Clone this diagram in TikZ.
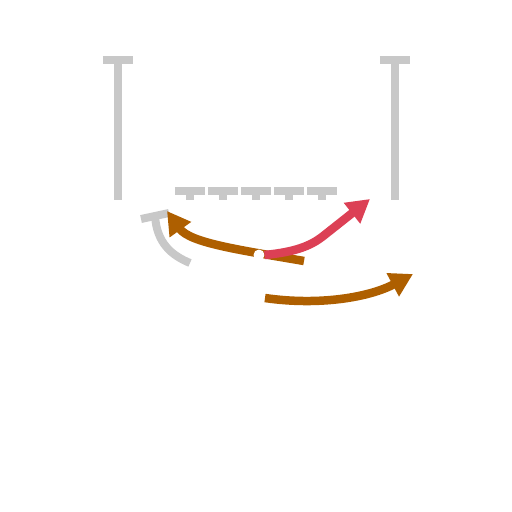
\documentclass[tikz,border=0pt]{standalone}
\usepackage{tikz}
\usetikzlibrary{arrows.meta, calc}

\definecolor{barGray}{HTML}{C8C8C8}
\definecolor{flowBrown}{HTML}{AE5F00}
\definecolor{flowRed}{HTML}{DC4055}

\begin{document}
\begin{tikzpicture}[x=0.02cm, y=-0.02cm,
        bar/.style={draw=barGray, line width=0.16cm},
        flow/.style={line width=0.17cm, -{Triangle[length=0.46cm, width=0.5cm]}},
        every node/.style={inner sep=0pt, outer sep=0pt}
    ]
        \useasboundingbox (0,0) rectangle (512,512);

        % tall posts
        \coordinate (L top) at (118,60);
        \coordinate (L foot) at (118,200);
        \coordinate (R top) at (395,60);
        \coordinate (R foot) at (395,200);
        \draw[bar] (L top) -- (L foot);
        \draw[bar] ($(L top)+(-15,0)$) -- ($(L top)+(15,0)$);
        \draw[bar] (R top) -- (R foot);
        \draw[bar] ($(R top)+(-15,0)$) -- ($(R top)+(15,0)$);

        % row of small tees
        \foreach \x [count=\i] in {190,223,256,289,322} {
            \coordinate (t\i) at (\x,191);
            \draw[bar] ($(t\i)+(-15,0)$) -- ($(t\i)+(15,0)$);
            \draw[bar] (t\i) -- (\x,200);
        }

        % tilted tee with bent stem
        \coordinate (tilt) at (155,216);
        \coordinate (tilt end) at (190,263);
        \draw[bar] (141,219) -- (169,213);
        \draw[bar] (tilt) .. controls (157,243) and (171,255) .. (tilt end);

        % flows
        \coordinate (b1 start) at (304,261);
        \coordinate (b1 tip) at (167,211);
        \draw[flow, flowBrown] (b1 start) .. controls (240,250) and (190,243) .. (b1 tip);

        \node[circle, fill=white, minimum size=0.22cm] (hub) at (259,255) {};

        \coordinate (r tip) at (370,199);
        \draw[flow, flowRed] (hub.east) .. controls (295,252) and (310,246) .. (322,237) -- (r tip);

        \coordinate (b2 start) at (265,298);
        \coordinate (b2 tip) at (413,274);
        \draw[flow, flowBrown] (b2 start) .. controls (320,306) and (370,297) .. (b2 tip);
    \end{tikzpicture}
\end{document}
